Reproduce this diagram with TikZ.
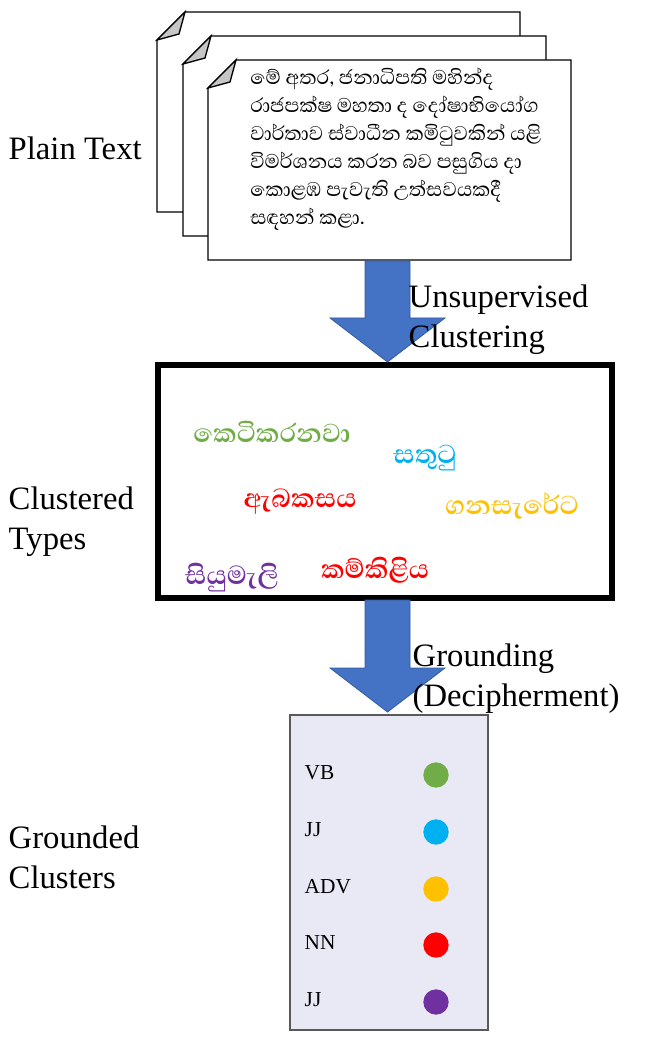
\documentclass[tikz,border=0pt]{standalone}
\usepackage{fontspec}
\setmainfont{Liberation Serif}
\newfontfamily\sinhfont[Script=Sinhala]{Abhaya Libre}
\usetikzlibrary{positioning}
\definecolor{arrowblue}{HTML}{4472C4}
\definecolor{wgreen}{HTML}{70AD47}
\definecolor{wblue}{HTML}{00B0F0}
\definecolor{wyellow}{HTML}{FFC000}
\definecolor{wred}{HTML}{FF0000}
\definecolor{wpurple}{HTML}{7030A0}
\definecolor{panel}{HTML}{E9E9F5}

\begin{document}
\begin{tikzpicture}[x=0.75pt,y=-0.75pt,
  sheet/.style = {draw, fill=white, line width=1pt},
  fold/.style = {draw, fill=gray!45, line width=1pt},
  label/.style = {font=\fontsize{24.5}{30}\selectfont, align=left, anchor=west},
  bigarrow/.style = {draw=arrowblue!80!black, fill=arrowblue, line width=0.6pt},
  word/.style = {font=\sinhfont\bfseries\fontsize{25}{28}\selectfont},
  tag/.style = {font=\fontsize{16}{18}\selectfont, anchor=west},
  dot/.style = {circle, minimum size=19pt, inner sep=0pt}]
  \useasboundingbox (0,0) rectangle (651,1044);
  % stacked pages
  \foreach \dx/\dy in {0/0, 26/24, 51/48} {
    \draw[sheet] (157+\dx+28,12+\dy) -- (520+\dx,12+\dy) -- (520+\dx,212+\dy) -- (157+\dx,212+\dy) -- (157+\dx,12+\dy+28) -- cycle;
    \draw[fold] (157+\dx,12+\dy+28) -- (157+\dx+28,12+\dy) -- (157+\dx+22,12+\dy+22) -- cycle;
  }
  \node[anchor=north west, font=\sinhfont\fontsize{19}{21}\selectfont, align=left, inner sep=0pt] (plaintext) at (250,68)
    {මේ අතර, ජනාධිපති මහින්ද\\රාජපක්ෂ මහතා ද දෝෂාභියෝග\\වාර්තාව ස්වාධීන කමිටුවකින් යළි\\විමර්ශනය කරන බව පසුගිය දා\\කොළඹ පැවැති උත්සවයකදී\\සඳහන් කළා.};
  \node[label] (plainlbl) at (4,148) {Plain Text};

  % clustered types
  \draw[line width=4pt] (158,365) rectangle (612,598);
  \node[word, text=wgreen] (w1) at (272,432) {කෙටිකරනවා};
  \node[word, text=wblue] (w2) at (425,458) {සතුටු};
  \node[word, text=wred] (w3) at (300,502) {ඇබකසය};
  \node[word, text=wyellow] (w4) at (512,506) {ගනසැරේට};
  \node[word, text=wpurple] (w5) at (232,578) {සියුමැලි};
  \node[word, text=wred] (w6) at (375,570) {කම්කිළිය};
  \node[label] (clusterlbl) at (4,522) {Clustered\\Types};

  % arrows
  \draw[bigarrow] (365,261) -- (410,261) -- (410,318) -- (445,318) -- (387.5,362) -- (330,318) -- (365,318) -- cycle;
  \node[label] (unsuplbl) at (404,320) {Unsupervised\\Clustering};
  \draw[bigarrow] (365,600) -- (410,600) -- (410,668) -- (445,668) -- (387.5,712) -- (330,668) -- (365,668) -- cycle;
  \node[label] (groundlbl) at (408,679) {Grounding\\(Decipherment)};

  % grounded clusters
  \draw[fill=panel, draw=gray!70!black, line width=1pt] (290,715) rectangle (488,1030);
  \foreach \t/\c/\y in {VB/wgreen/773, JJ/wblue/830, ADV/wyellow/887, NN/wred/943, JJ/wpurple/1000} {
    \node[tag] at (300,\y) {\t};
    \node[dot, fill=\c] at (436,\y+2) {};
  }
  \node[label] (groundedlbl) at (4,857) {Grounded\\Clusters};
\end{tikzpicture}
\end{document}
